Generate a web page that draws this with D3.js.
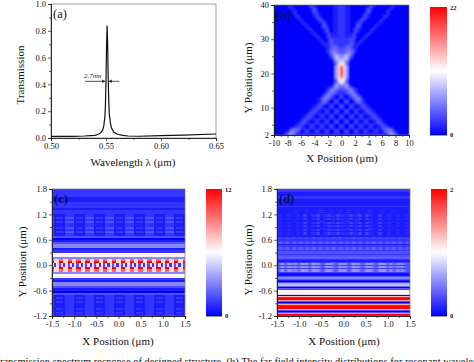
<!DOCTYPE html>
<html>
<head>
<meta charset="utf-8">
<script src="https://cdn.jsdelivr.net/npm/d3@7"></script>
<style>
  html, body { margin: 0; padding: 0; background: #fff; overflow: hidden; }
  text { font-family: "Liberation Serif", serif; fill: #111; }
</style>
</head>
<body>
<svg id="chart" width="474" height="362"></svg>
<script>
// (a) transmission curve
const wavelengths = [.50, .51, .52, .53, .54, .543, .545, .547, .548, .549, .5495, .55, .5505, .551, .5515, .552, .5525, .553, .554, .555, .557, .56, .565, .57, .58, .60, .62, .65];
const transmission = [.012, .012, .012, .015, .02, .028, .037, .06, .09, .16, .25, .42, .68, .84, .70, .45, .28, .18, .11, .075, .045, .03, .02, .015, .013, .018, .022, .03];

// heat maps are read as rows of levels, 0 (blue) .. a (white) .. j (red)
// one char = the whole row has that level

// (b) right half of the field, column 0 is x = 0, the left half mirrors it
const levelsB = [
  "2211000000013100000002000000", "2211000000131000000020000000", "2211000000131000000200000000",
  "2211000001310000000200000000", "2211000001310000002000000000", "2211000013100000020000000000",
  "2211000131000000200000000000", "2211001310000002000000000000", "2211001310000020000000000000",
  "2211013100000200000000000000", "2211013100002000000000000000", "2211131000020000000000000000",
  "2212131000200000000000000000", "2222320002000000000000000000", "2222320020000000000000000000",
  "2222320200000000000000000000", "2234302000000000000000000000", "3344321000000000000000000000",
  "3345421000000000000000000000", "4456410000000000000000000000", "5675200000000000000000000000",
  "6773100000000000000000000000", "8751000000000000000000000000", "ab30000000000000000000000000",
  "fb60000000000000000000000000", "jb60000000000000000000000000", "jb60000000000000000000000000",
  "jb60000000000000000000000000", "gb60000000000000000000000000", "ca50000000000000000000000000",
  "a830000000000000000000000000", "7551000000000000000000000000", "4463100000000000000000000000",
  "3345421000000000000000000000", "2234532000000000000000000000", "2123453100000000000000000000",
  "3000345310000000000000000000", "0202034531000000000000000000", "0030003431000000000000000000",
  "0202020232100000000000000000", "3000300023210000000000000000", "0202020202321000000000000000",
  "0030003000232100000000000000", "0202020202023210000000000000", "3000300030002321000000000000",
  "0202020202020232100000000000", "0030003000300023210000000000", "0202020202020202321000000000",
  "3000300030003000232100000000", "0202020202020202034431000000", "0030003000300030003453100000",
  "0202020202020202020356310000"
];

// (c) repeating rows
const cBlockA = "211111222211111222211111222211111222211111222211111222211111";
const cBlockB = "312221333312221333312221333312221333312221333312221333312221";
const cFaintA = "211111222211111222211111222211111222211111222211111222211111";
const cFaintB = "212221222212221222212221222212221222212221222212221222212221";
const cDots   = "b2b3b2b3b2b3b2b3b2b3b2b3b2b3b2b3b2b3b2b3b2b3b2b3b2b3b2b3b2b3";
const cRed    = "jbbjjbbjjbbjjbbjjbbjjbbjjbbjjbbjjbbjjbbjjbbjjbbjjbbjjbbjjbbj";
const cPink   = "fbbffbbffbbffbbffbbffbbffbbffbbffbbffbbffbbffbbffbbffbbffbbf";
const levelsC = [
  "2", "2", "2", "2", "1", "1", "2", "2", "2", "1", "2", "2",
  cBlockA, cBlockB, cBlockA, cBlockB, cBlockA, cBlockA, cBlockB, cBlockA, cBlockB, cBlockA,
  "3", "0", "1", "3", "5", "5", "1", "2", "a", "a", "5", cPink, cRed, cDots,
  cDots, cRed, cPink, "5", "a", "a", "2", "1", "5", "5", "3", "1", "0", "3",
  cFaintA, cFaintB, cFaintA, cFaintB, cFaintA, cFaintA, cFaintB, cFaintA, cFaintB, cFaintA
];

// (d) repeating rows
const dSpotA = "111111112111121111122111211121122111211112211112111121111111";
const dSpotB = "121112111211311121311213121312121312131131211131112111211121";
const dDotsA = "243243243243243243243243243243243243243243243243243243243242";
const dDotsB = "346346546346563465643465643465643465643465643465634634636433";
const dDotsC = "232232232232232232232232232232232232232232232232232232232232";
const levelsD = [
  "2", "2", "2", "1", "1", "1", "1", "2", "2", "1",
  "1", "1", "1", "1", "1", "1", "2", "1", "1", "1",
  dSpotA, "1", dSpotA, "1", dSpotB, dSpotB, "1", dSpotB, dSpotB, "1",
  dSpotA, dSpotB, dSpotB, "1", dSpotB, dSpotB, "1", dSpotA, dSpotB, dSpotB,
  "1", dSpotB, dSpotB, "1", "1", dDotsC, dDotsC, "2", "2", dDotsC,
  dDotsA, dDotsA, "1", dDotsC, "2", dDotsA, dDotsA, dDotsA, "2", "3",
  "3", "2", "3", "3", "4", "3", "2", "1", "1", dDotsC,
  dDotsB, dDotsB, dDotsC, dDotsB, dDotsB, dDotsC, dDotsB, dDotsB, "2", "1",
  "0", "1", "3", "5", "5", "3", "1", "0", "3", "6",
  "7", "7", "4", "0", "3", "a", "a", "a", "a", "8",
  "0", "c", "i", "j", "j", "d", "3", "0", "3", "d",
  "i", "j", "j", "d", "3", "0", "3", "e", "j", "j"
];

const ticksFieldX = [-1.5, -1, -.5, 0, .5, 1, 1.5];
const minorFieldX = [-1.25, -.75, -.25, .25, .75, 1.25];
const ticksFieldY = [-1.2, -.6, 0, .6, 1.2, 1.8];
const minorFieldY = [-.9, -.3, .3, .9, 1.5];

const svg = d3.select("#chart");
const defs = svg.append("defs");

function frame(box, xDomain, yDomain, xTicks, xMinor, yTicks, yMinor, xFmt, yFmt) {
    const x = d3.scaleLinear().domain(xDomain).range([box.left, box.right]);
    const y = d3.scaleLinear().domain(yDomain).range([box.bottom, box.top]);

    const g = svg.append("g");
    g.append("rect")
        .attr("x", box.left).attr("y", box.top)
        .attr("width", box.right - box.left).attr("height", box.bottom - box.top)
        .attr("fill", "none").attr("stroke", "#777").attr("stroke-width", .7);

    g.append("g").attr("transform", `translate(0,${box.bottom})`)
        .call(d3.axisBottom(x).tickValues(xTicks).tickSize(3).tickPadding(2).tickFormat(xFmt));
    g.append("g").attr("transform", `translate(${box.left},0)`)
        .call(d3.axisLeft(y).tickValues(yTicks).tickSize(3).tickPadding(2).tickFormat(yFmt));
    g.append("g").attr("transform", `translate(0,${box.bottom})`)
        .call(d3.axisBottom(x).tickValues(xMinor).tickSize(2).tickFormat(""));
    g.append("g").attr("transform", `translate(${box.left},0)`)
        .call(d3.axisLeft(y).tickValues(yMinor).tickSize(2).tickFormat(""));

    g.selectAll("text").attr("font-size", 8.5).attr("font-family", "Liberation Serif").attr("fill", "#111");
    g.selectAll(".domain").attr("stroke", "#222").attr("stroke-width", .8);
    g.selectAll(".tick line").attr("stroke", "#222").attr("stroke-width", .7);
    return { x, y, g };
}

function title(txt, cx, cy, rotate, size) {
    svg.append("text")
        .attr("transform", `translate(${cx},${cy})` + (rotate ? " rotate(-90)" : ""))
        .attr("text-anchor", "middle").attr("dominant-baseline", "middle")
        .attr("font-size", size || 11).text(txt);
}

function heatmap(name, box, rows, maxValue, mirror, blur) {
    const colour = d3.scaleLinear().domain([0, maxValue / 2, maxValue]).range(["#0000ff", "#ffffff", "#ff0000"]);
    const value = d3.scaleLinear().domain([0, 19]).range([0, maxValue]);
    const colCount = mirror ? rows[0].length * 2 - 1 : 60;
    const colX = d3.scaleBand().domain(d3.range(colCount)).range([box.left, box.right]);
    const rowY = d3.scaleBand().domain(d3.range(rows.length)).range([box.top, box.bottom]);

    defs.append("filter").attr("id", "soft-" + name)
        .attr("filterUnits", "userSpaceOnUse")
        .attr("x", box.left - 5).attr("y", box.top - 5)
        .attr("width", box.right - box.left + 10).attr("height", box.bottom - box.top + 10)
        .append("feGaussianBlur").attr("stdDeviation", blur);
    defs.append("clipPath").attr("id", "clip-" + name).append("rect")
        .attr("x", box.left).attr("y", box.top)
        .attr("width", box.right - box.left).attr("height", box.bottom - box.top);

    const clipped = svg.append("g").attr("clip-path", `url(#clip-${name})`);
    clipped.append("rect")
        .attr("x", box.left).attr("y", box.top)
        .attr("width", box.right - box.left).attr("height", box.bottom - box.top)
        .attr("fill", colour(0));

    const cells = clipped.append("g").attr("filter", `url(#soft-${name})`).attr("shape-rendering", "crispEdges");
    const rowsG = cells.selectAll("g").data(rows).join("g")
        .attr("transform", (d, i) => `translate(0,${rowY(i)})`);

    rowsG.filter(d => d.length === 1).append("rect")
        .attr("x", box.left - 3).attr("width", box.right - box.left + 6)
        .attr("height", rowY.bandwidth() + .5)
        .attr("fill", d => colour(value(parseInt(d, 20))));

    rowsG.filter(d => d.length > 1).selectAll("rect")
        .data(d => d3.range(colCount).map(i => d[mirror ? Math.abs(i - (colCount - 1) / 2) : i] || "0"))
        .join("rect")
        .attr("x", (d, i) => colX(i))
        .attr("width", colX.bandwidth() + .5)
        .attr("height", rowY.bandwidth() + .5)
        .attr("fill", d => colour(value(parseInt(d, 20))));
    return colour;
}

function colourBar(name, box, colour, maxValue) {
    const grad = defs.append("linearGradient").attr("id", "bar-" + name)
        .attr("x1", 0).attr("y1", 1).attr("x2", 0).attr("y2", 0);
    [0, .5, 1].forEach(t => {
        grad.append("stop").attr("offset", t).attr("stop-color", colour(t * maxValue));
    });
    const y = d3.scaleLinear().domain([0, maxValue]).range([box.bottom, box.top]);
    svg.append("rect")
        .attr("x", box.left).attr("y", box.top)
        .attr("width", box.right - box.left).attr("height", box.bottom - box.top)
        .attr("fill", `url(#bar-${name})`);
    svg.append("line")
        .attr("x1", box.left).attr("x2", box.right)
        .attr("y1", box.bottom).attr("y2", box.bottom)
        .attr("stroke", "#000").attr("stroke-width", .8);
    [0, maxValue].forEach(v => {
        svg.append("text")
            .attr("x", box.right + 3).attr("y", y(v) + (v ? 2 : 1))
            .attr("dominant-baseline", "middle")
            .attr("font-size", 6.5).attr("font-weight", "bold")
            .text(v);
    });
}

// (a)
const boxA = { left: 51, right: 216, top: 4, bottom: 138 };
const a = frame(boxA, [.5, .65], [0, 1],
    [.5, .55, .6, .65], [.525, .575, .625],
    [0, .2, .4, .6, .8, 1], [.1, .3, .5, .7, .9],
    d => d.toFixed(2), d => d.toFixed(1));

const curve = d3.line().x(d => a.x(d[0])).y(d => a.y(d[1]));
svg.append("path")
    .datum(d3.zip(wavelengths, transmission))
    .attr("d", curve)
    .attr("fill", "none").attr("stroke", "#111").attr("stroke-width", 1.2);

// width marker at half height
const markerY = a.y(.423);
[[.531, .5493, 1], [.562, .5525, -1]].forEach(([from, to, dir]) => {
    svg.append("line")
        .attr("x1", a.x(from)).attr("x2", a.x(to))
        .attr("y1", markerY).attr("y2", markerY)
        .attr("stroke", "#222").attr("stroke-width", .8);
    svg.append("path")
        .attr("d", `M${a.x(to)},${markerY}l${-3 * dir},-1.8v3.6z`)
        .attr("fill", "#222");
});
svg.append("text").attr("x", 84).attr("y", 77.5)
    .attr("font-size", 7).attr("font-style", "italic").text("2.7nm");
svg.append("text").attr("x", 53).attr("y", 18).attr("font-size", 12.5).text("(a)");
title("Transmission", 21, 75, true, 11);
title("Wavelength λ (μm)", 133, 163, false, 11);

// (b)
const boxB = { left: 274, right: 409, top: 5, bottom: 135 };
const colourB = heatmap("b", boxB, levelsB, 22, true, .8);
frame(boxB, [-10, 10], [2, 40],
    d3.range(-10, 11, 2), d3.range(-9, 10, 2),
    [2, 10, 20, 30, 40], [5, 15, 25, 35],
    d => d, d => d);
colourBar("b", { left: 430, right: 447, top: 7, bottom: 135 }, colourB, 22);
svg.append("text").attr("x", 276).attr("y", 20).attr("font-size", 12.5).attr("font-weight", "bold")
    .style("fill", "#00105a").text("(b)");
title("Y Position (μm)", 249, 78, true);
title("X Position (μm)", 342, 159);

// (c)
const boxC = { left: 52, right: 185, top: 189, bottom: 316 };
const colourC = heatmap("c", boxC, levelsC, 12, false, "0.6 0.5");
frame(boxC, [-1.5, 1.5], [-1.2, 1.8], ticksFieldX, minorFieldX, ticksFieldY, minorFieldY,
    d => d.toFixed(1), d => d.toFixed(1));
colourBar("c", { left: 206, right: 222, top: 189, bottom: 316 }, colourC, 12);
svg.append("text").attr("x", 54).attr("y", 203).attr("font-size", 12.5).attr("font-weight", "bold")
    .style("fill", "#00105a").text("(c)");
title("Y Position (μm)", 23, 262, true);
title("X Position (μm)", 118, 342);

// (d)
const boxD = { left: 277, right: 410, top: 189, bottom: 316 };
const colourD = heatmap("d", boxD, levelsD, 2, false, "1.1 0.55");
frame(boxD, [-1.5, 1.5], [-1.2, 1.8], ticksFieldX, minorFieldX, ticksFieldY, minorFieldY,
    d => d.toFixed(1), d => d.toFixed(1));
colourBar("d", { left: 431, right: 447, top: 189, bottom: 316 }, colourD, 2);
svg.append("text").attr("x", 279).attr("y", 203).attr("font-size", 12.5).attr("font-weight", "bold")
    .style("fill", "#00105a").text("(d)");
title("Y Position (μm)", 249, 260, true);
title("X Position (μm)", 344, 342);

// caption line cut by the bottom of the picture
svg.append("text").attr("x", -3).attr("y", 365).attr("font-size", 10.5)
    .text("transmission spectrum response of designed structure. (b) The far field intensity distributions for resonant wavelength");
</script>
</body>
</html>
